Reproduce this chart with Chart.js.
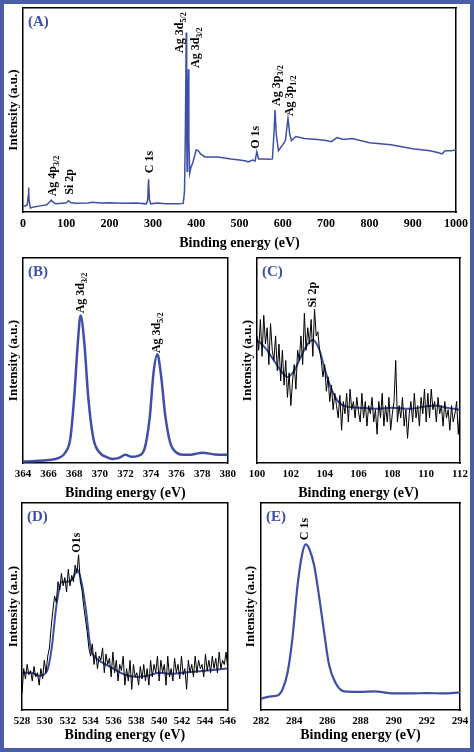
<!DOCTYPE html>
<html><head><meta charset="utf-8">
<script src="https://cdn.jsdelivr.net/npm/chart.js@4"></script>
<style>
body{margin:0;background:#fff;}
#wrap{position:relative;width:474px;height:752px;overflow:hidden;}
.p{position:absolute;}
#frame{position:absolute;left:0;top:0;width:474px;height:752px;box-sizing:border-box;border:4px solid #4a5ea8;pointer-events:none;}
</style></head><body>
<div id="wrap">
<div class="p" style="left:0;top:0;width:474px;height:252px"><canvas id="cA"></canvas></div>
<div class="p" style="left:0;top:250px;width:237px;height:252px"><canvas id="cB"></canvas></div>
<div class="p" style="left:237px;top:250px;width:237px;height:252px"><canvas id="cC"></canvas></div>
<div class="p" style="left:0;top:497px;width:237px;height:255px"><canvas id="cD"></canvas></div>
<div class="p" style="left:237px;top:497px;width:237px;height:255px"><canvas id="cE"></canvas></div>
<div id="frame"></div>
</div>
<script>
// survey spectrum (A)
const surveyX = [0,5,10,12,13,14,17,25,40,55,62,65,68,75,90,100,105,110,120,150,160,180,200,230,260,285,288,290,292,295,310,330,360,370,373,375,377,378,379,380,382,383,385,388,392,400,405,410,420,450,480,500,515,520,530,536,540,544,555,570,576,580,582,585,590,600,606,612,616,620,630,650,680,700,712,725,740,760,800,850,900,940,960,968,975,990,1000];
const surveyY = [3,3,3.5,8,12,6,2,2.5,3,3.5,5,5.8,5.2,4,4.3,4.5,5.5,4.6,4.3,4.4,4.8,4.4,4.5,4.3,4.4,4.0,6,16,6,4,4.4,4.1,4.0,4.2,10,40,88,40,20,45,70,35,19,22,24,30.5,30,28.5,27,27,26,25.5,25,24.5,25.5,25,29.5,26,26,25.8,26,40,50,38,30,33,35,46,38,35,37,36,35.5,35,34.5,36.5,35.5,36,34,33,31,30,29,28.5,30,30,30.5];

// Ag 3d (B)
const ag3dX = [364,365,366,366.8,367.3,367.7,368,368.3,368.5,368.8,369.1,369.5,370,370.5,371,371.5,372,372.5,373,373.5,373.9,374.2,374.5,374.8,375.1,375.5,376,376.5,377,377.5,378,379,380];
const ag3dY = [0.7,1.0,1.5,2.5,5,12,32,60,72,58,32,12,5,3,2,2.5,4,3,3.5,7,22,44,53,42,24,10,5,4,4,4.5,5,4.2,4];

// Si 2p (C): raw every 0.1 eV from 100 to 112, plus fit
const si2pStart = 100, si2pStep = 0.1;
const si2pRaw = [62,55,70,52,72,58,66,48,68,55,50,
 62,45,58,40,55,38,50,32,44,28,
 40,48,36,55,50,62,48,73,55,66,
 58,70,52,75,62,64,55,50,42,48,
 35,42,30,38,26,34,28,22,33,16,
 30,24,34,20,36,26,30,22,32,25,
 20,34,22,30,18,28,24,32,20,26,
 14,30,22,34,18,28,20,32,16,24,
 30,50,20,28,22,32,18,26,12,24,
 30,20,34,22,28,18,32,24,36,20,
 34,22,36,26,30,20,32,24,28,18,
 30,22,26,16,28,20,24,30,14,26];
const si2pFitX = [100,100.5,101,101.5,101.8,102.2,102.6,103,103.3,103.7,104,104.4,104.8,105.3,106,107,108,109,110.5,111.2,112];
const si2pFitY = [60,56,50,44,42,45,52,58,60,55,46,36,30,27.5,27,26.5,27,26.5,28,27,26];

// O 1s (D): raw every 0.15 eV from 528 to 546, plus fit
const o1sStart = 528, o1sStep = 0.15;
const o1sRaw = [8,20,15,22,17,19,14,21,16,18,12,
 20,15,24,18,26,30,40,48,55,52,
 62,58,66,60,64,57,68,60,65,62,
 70,66,75,62,58,50,44,38,30,26,
 32,22,28,20,26,24,30,18,27,22,
 25,16,28,18,24,14,22,19,26,12,
 20,14,24,10,22,16,18,12,21,15,
 22,14,20,12,24,16,22,18,26,14,
 24,18,22,12,26,16,20,14,25,18,
 22,15,26,17,20,10,24,18,22,16,
 26,18,24,20,22,16,27,19,24,18,
 26,20,25,18,28,20,24,22,28,20];
const o1sFitX = [528,528.8,529.5,530.2,530.6,531,531.5,532,532.5,532.8,533.2,533.6,534,534.5,535,536,537,538,539,540,541,542,543,544,545,546];
const o1sFitY = [18,18,16.5,19,30,50,62,62,64,68,62,48,30,25,23,20,17,16,16.5,18,17.5,18,18.5,19,19.5,20];

// C 1s (E)
const c1sX = [282,282.5,283,283.3,283.6,283.9,284.2,284.5,284.7,284.9,285.2,285.5,285.8,286.1,286.5,287,288,288.8,290,291,292,293,294];
const c1sY = [5.5,6.5,7,10,18,35,60,76,80,78,70,55,38,22,13,9,8.8,9,8,8,8.2,8,8.5];

const serif = "'Liberation Serif','DejaVu Serif',serif";
const blue = '#3f4fa8';

function pts(xs, ys){ return xs.map((x,i)=>({x:x,y:ys[i]})); }
function stepPts(start, step, ys){ return ys.map((y,i)=>({x:+(start+i*step).toFixed(3),y:y})); }

const labelPlugin = {
  id:'peakLabels',
  afterDatasetsDraw(chart){
    const o = chart.options.plugins.peakLabels;
    const c = chart.ctx, xs = chart.scales.x, ys = chart.scales.y, a = chart.chartArea;
    c.save();
    c.fillStyle = blue;
    c.font = 'bold 15px ' + serif;
    c.textBaseline = 'top';
    c.fillText(o.tag, a.left + 5, a.top + 7);
    c.fillStyle = '#000';
    o.labels.forEach(l=>{
      c.save();
      c.translate(xs.getPixelForValue(l.x), ys.getPixelForValue(l.y));
      c.rotate(-Math.PI/2);
      c.textBaseline = 'middle';
      c.font = 'bold 12px ' + serif;
      c.fillText(l.t, 0, 0);
      if (l.s){
        const w = c.measureText(l.t).width;
        c.font = 'bold 8px ' + serif;
        c.fillText(l.s, w, 4);
      }
      c.restore();
    });
    c.restore();
  }
};

function makePanel(id, cfg){
  new Chart(document.getElementById(id), {
    type:'line',
    data:{datasets:cfg.datasets},
    plugins:[labelPlugin],
    options:{
      responsive:true, maintainAspectRatio:false, animation:false,
      layout:{padding:{top:cfg.pad[0], right:cfg.pad[1], left:cfg.pad[2], bottom:cfg.pad[3]}},
      elements:{point:{radius:0}},
      plugins:{legend:{display:false}, tooltip:{enabled:false},
        peakLabels:{tag:cfg.tag, labels:cfg.labels}},
      scales:{
        x:{type:'linear', min:cfg.xr[0], max:cfg.xr[1],
          grid:{display:false, drawOnChartArea:false, tickLength:4, color:'#000'},
          border:{color:'#000', width:1.5},
          ticks:{stepSize:cfg.xr[2], color:'#000', padding:1, maxRotation:0, autoSkip:false,
            callback:v=>String(v),
            font:{family:serif, weight:'bold', size:cfg.tickSize || 12}},
          title:{display:true, text:'Binding energy (eV)', color:'#000', padding:{top:0,bottom:0},
            font:{family:serif, weight:'bold', size:14}},
          afterFit(s){ s.height = cfg.xh; }
        },
        y:{min:0, max:100,
          grid:{display:false}, border:{color:'#000', width:1.5},
          ticks:{display:false},
          title:{display:true, text:'Intensity (a.u.)', color:'#000', padding:{top:0,bottom:2},
            font:{family:serif, weight:'bold', size:13}},
          afterFit(s){ s.width = cfg.yw; }
        },
        x2:{type:'linear', position:'top', display:true, grid:{display:false}, ticks:{display:false}, border:{color:'#000', width:1.5}, afterFit(s){ s.height = 0; }},
        y2:{position:'right', display:true, grid:{display:false}, ticks:{display:false}, border:{color:'#000', width:1.5}, afterFit(s){ s.width = 0; }}
      }
    }
  });
}

makePanel('cA', {tag:'(A)', xr:[0,1000,100], pad:[8,18,6,0], yw:17, xh:40, tickSize:12,
  datasets:[{data:pts(surveyX,surveyY), borderColor:blue, borderWidth:1.5, tension:0}],
  labels:[{x:69,y:7.7,t:'Ag 4p',s:'3/2'},{x:108,y:8.5,t:'Si 2p'},{x:293,y:19,t:'C 1s'},
    {x:362,y:78,t:'Ag 3d',s:'5/2'},{x:400,y:70.6,t:'Ag 3d',s:'3/2'},{x:539,y:31,t:'O 1s'},
    {x:586,y:52,t:'Ag 3p',s:'3/2'},{x:616,y:47,t:'Ag 3p',s:'1/2'}]});

makePanel('cB', {tag:'(B)', xr:[364,380,2], pad:[8,7,6,0], yw:17, xh:39, tickSize:11,
  datasets:[{data:pts(ag3dX,ag3dY), borderColor:blue, borderWidth:2.5, cubicInterpolationMode:'monotone'}],
  labels:[{x:368.5,y:73,t:'Ag 3d',s:'3/2'},{x:374.5,y:53.6,t:'Ag 3d',s:'5/2'}]});

makePanel('cC', {tag:'(C)', xr:[100,112,2], pad:[8,14,3,0], yw:17, xh:39, tickSize:11,
  datasets:[
    {data:stepPts(si2pStart,si2pStep,si2pRaw), borderColor:'#000', borderWidth:1, tension:0},
    {data:pts(si2pFitX,si2pFitY), borderColor:blue, borderWidth:2, cubicInterpolationMode:'monotone'}],
  labels:[{x:103.3,y:75.8,t:'Si 2p'}]});

makePanel('cD', {tag:'(D)', xr:[528,546,2], pad:[6,8,6,8], yw:16, xh:34, tickSize:11,
  datasets:[
    {data:stepPts(o1sStart,o1sStep,o1sRaw), borderColor:'#000', borderWidth:1, tension:0},
    {data:pts(o1sFitX,o1sFitY), borderColor:blue, borderWidth:2, cubicInterpolationMode:'monotone'}],
  labels:[{x:532.8,y:76,t:'O1s'}]});

makePanel('cE', {tag:'(E)', xr:[282,294,2], pad:[6,14,6,8], yw:18, xh:34, tickSize:11,
  datasets:[{data:pts(c1sX,c1sY), borderColor:blue, borderWidth:2.2, cubicInterpolationMode:'monotone'}],
  labels:[{x:284.65,y:82,t:'C 1s'}]});
</script>
</body></html>
